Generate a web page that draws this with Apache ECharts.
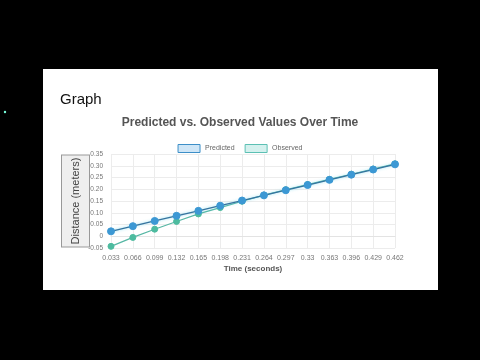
<!DOCTYPE html>
<html><head><meta charset="utf-8">
<script src="https://cdn.jsdelivr.net/npm/echarts@6/dist/echarts.min.js"></script>
<style>html,body{margin:0;padding:0;background:#000;}#c{width:480px;height:360px;}</style>
</head><body><div id="c"></div>
<script>
var times = ['0.033','0.066','0.099','0.132','0.165','0.198','0.231','0.264','0.297','0.33','0.363','0.396','0.429','0.462'];
var predicted = [0.021,0.043,0.065,0.087,0.108,0.130,0.152,0.174,0.196,0.218,0.240,0.262,0.284,0.306];
var observed = [-0.043,-0.005,0.030,0.063,0.095,0.122,0.149,0.175,0.198,0.220,0.242,0.264,0.286,0.308];

var chart = echarts.init(document.getElementById('c'));
chart.setOption({
  backgroundColor: '#000',
  animation: false,
  graphic: [
    {type:'rect', shape:{x:43,y:69,width:395,height:221}, style:{fill:'#fff'}, z:-10},
    {type:'circle', shape:{cx:5,cy:112,r:1.2}, style:{fill:'#7fd'}},
    {type:'text', left:60, top:92, style:{text:'Graph', font:'15px "Liberation Sans", Arial, sans-serif', fill:'#111'}}
  ],
  title: {
    text: 'Predicted vs. Observed Values Over Time',
    left: 'center', top: 112,
    textStyle: {fontSize: 12, fontWeight: 'bold', color: '#555', fontFamily: '"Liberation Sans", Arial, sans-serif'}
  },
  legend: {
    top: 139, left: 'center',
    icon: 'rect', itemWidth: 22, itemHeight: 8, itemGap: 10,
    textStyle: {fontSize: 7, color: '#666', fontFamily: '"Liberation Sans", Arial, sans-serif'},
    data: [
      {name:'Predicted', itemStyle:{color:'#cfe6f7', borderColor:'#3d8fc8', borderWidth:1}},
      {name:'Observed', itemStyle:{color:'#d4f1ee', borderColor:'#5cc0b4', borderWidth:1}}
    ]
  },
  grid: {left: 111, right: 85, top: 154, bottom: 112},
  xAxis: {
    type: 'category', data: times, boundaryGap: false,
    name: 'Time (seconds)', nameLocation: 'middle', nameGap: 17,
    nameTextStyle: {fontSize: 8, fontWeight: 'bold', color: '#555', fontFamily: '"Liberation Sans", Arial, sans-serif'},
    axisLine: {show: true, lineStyle: {color: '#e3e3e3'}},
    axisTick: {show: false},
    axisLabel: {fontSize: 7, color: '#777', margin: 7, interval: 0, fontFamily: '"Liberation Sans", Arial, sans-serif'},
    splitLine: {show: true, lineStyle: {color: '#ececec'}}
  },
  yAxis: {
    type: 'value', min: -0.05, max: 0.35, interval: 0.05,
    name: 'Distance (meters)', nameLocation: 'middle', nameGap: 22, nameRotate: 90, nameMoveOverlap: false,
    nameTextStyle: {fontSize: 11, color: '#444', fontFamily: '"Liberation Sans", Arial, sans-serif',
      backgroundColor: '#efefef', borderColor: '#999', borderWidth: 1, padding: [8, 2, 8, 2]},
    axisLine: {show: false},
    axisTick: {show: false},
    axisLabel: {fontSize: 6.5, color: '#777', margin: 8, fontFamily: '"Liberation Sans", Arial, sans-serif',
      formatter: function(v){ var s = Math.round(v*100)/100; return s === 0 ? '0' : s.toFixed(2); }},
    splitLine: {show: true, lineStyle: {color: '#ececec'}}
  },
  series: [
    {name:'Observed', type:'line', data: observed, z: 2,
     symbol:'circle', symbolSize: 6,
     lineStyle:{color:'#56b7a4', width:1.2},
     itemStyle:{color:'#4dbb9f', borderColor:'#4dbb9f'}},
    {name:'Predicted', type:'line', data: predicted, z: 3,
     symbol:'circle', symbolSize: 7,
     lineStyle:{color:'#36739e', width:1.3, shadowColor:'rgba(90,210,235,0.7)', shadowBlur:3},
     itemStyle:{color:'#3c98d4', borderColor:'#3c98d4'}}
  ]
});
</script></body></html>
